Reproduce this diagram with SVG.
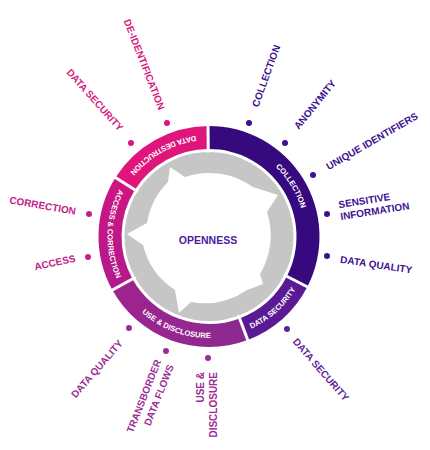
<svg xmlns="http://www.w3.org/2000/svg" width="430" height="450" viewBox="0 0 430 450">
<defs>
<style>
.lbl{font-family:"Liberation Sans",Arial,Helvetica,sans-serif;font-weight:bold;font-size:10px}
.seg{font-family:"Liberation Sans",Arial,Helvetica,sans-serif;font-weight:bold;font-size:7.6px;fill:#ffffff}
.col{fill:#3d1190}
.ds{fill:#5e2399}
.ud{fill:#9b2b96}
.ac{fill:#c4208c}
.dd{fill:#d9187e}
.sep{stroke:#ffffff;stroke-width:3}
</style>
<linearGradient id="gAC" x1="0" y1="0" x2="0" y2="1">
<stop offset="0" stop-color="#cf1582"/>
<stop offset="1" stop-color="#b01a8d"/>
</linearGradient>
<linearGradient id="gUD" x1="0" y1="0" x2="1" y2="0">
<stop offset="0" stop-color="#a0238d"/>
<stop offset="1" stop-color="#8a2a92"/>
</linearGradient>
<path id="pDD" d="M 208.11 135.00 A 101.5 101.5 0 0 0 123.11 182.41"/>
<path id="pAC" d="M 123.11 182.41 A 101.5 101.5 0 0 0 120.23 285.71"/>
<path id="pUD" d="M 120.23 285.71 A 101.5 101.5 0 0 0 244.55 331.58"/>
<path id="pDS" d="M 244.55 331.58 A 101.5 101.5 0 0 0 299.36 282.74"/>
<path id="pCO" d="M 208.16 140.20 A 96.3 96.3 0 0 1 294.73 280.36"/>
</defs>
<rect width="430" height="450" fill="#ffffff"/>

<g id="openness">
<circle cx="209" cy="236.5" r="84.5" fill="#c6c6c6"/>
<path d="M 170 167 L 185 177 A 75 75 0 0 1 253 187 L 278 195 L 267 212 A 75 75 0 0 1 260 274 L 263 284 L 247 290 A 75 75 0 0 1 191 302 L 179 313 L 175 290 A 75 75 0 0 1 143 245 L 127 234 L 147 223 A 75 75 0 0 1 168 182 Z" fill="#ffffff"/>
<text class="lbl" x="208" y="244" text-anchor="middle" style="font-size:10.5px;fill:#4b1c9c">OPENNESS</text>
</g>

<g id="seg-collection">
<path d="M 208.04 126.00 A 110.5 110.5 0 0 1 307.37 286.83 L 286.89 276.36 A 87.5 87.5 0 0 0 208.24 149.00 Z" fill="#36097f"/>
<text class="seg"><textPath href="#pCO" startOffset="50%" text-anchor="middle">COLLECTION</textPath></text>
</g>
<g id="seg-data-security">
<path d="M 307.37 286.83 A 110.5 110.5 0 0 1 247.70 340.01 L 239.64 318.46 A 87.5 87.5 0 0 0 286.89 276.36 Z" fill="#5a1a94"/>
<text class="seg"><textPath href="#pDS" startOffset="50%" text-anchor="middle">DATA SECURITY</textPath></text>
</g>
<g id="seg-use-disclosure">
<path d="M 247.70 340.01 A 110.5 110.5 0 0 1 112.36 290.07 L 132.47 278.92 A 87.5 87.5 0 0 0 239.64 318.46 Z" fill="url(#gUD)"/>
<text class="seg"><textPath href="#pUD" startOffset="50%" text-anchor="middle">USE &amp; DISCLOSURE</textPath></text>
</g>
<g id="seg-access-correction">
<path d="M 112.36 290.07 A 110.5 110.5 0 0 1 115.49 177.61 L 134.96 189.87 A 87.5 87.5 0 0 0 132.47 278.92 Z" fill="url(#gAC)"/>
<text class="seg"><textPath href="#pAC" startOffset="50%" text-anchor="middle">ACCESS &amp; CORRECTION</textPath></text>
</g>
<g id="seg-data-destruction">
<path d="M 115.49 177.61 A 110.5 110.5 0 0 1 208.04 126.00 L 208.24 149.00 A 87.5 87.5 0 0 0 134.96 189.87 Z" fill="#e0157b"/>
<text class="seg"><textPath href="#pDD" startOffset="50%" text-anchor="middle">DATA DESTRUCTION</textPath></text>
</g>
<g id="separators" class="sep">
<line x1="208.27" y1="152.5" x2="208.01" y2="123.5"/>
<line x1="137.92" y1="191.74" x2="113.38" y2="176.28"/>
<line x1="135.53" y1="277.22" x2="110.17" y2="291.28"/>
<line x1="238.42" y1="315.18" x2="248.57" y2="342.35"/>
<line x1="283.78" y1="274.76" x2="309.59" y2="287.97"/>
</g>

<g id="lbl-collection" class="col">
<circle cx="249" cy="123" r="3"/>
<text class="lbl" transform="translate(254.8,106.4) rotate(-70)" y="3.6">COLLECTION</text>
</g>
<g id="lbl-anonymity" class="col">
<circle cx="285" cy="143" r="3"/>
<text class="lbl" transform="translate(296,127.8) rotate(-51)" y="3.6">ANONYMITY</text>
</g>
<g id="lbl-unique-identifiers" class="col">
<circle cx="313" cy="175" r="3"/>
<text class="lbl" transform="translate(327,167) rotate(-30)" y="3.6">UNIQUE IDENTIFIERS</text>
</g>
<g id="lbl-sensitive-information" class="col">
<circle cx="327" cy="214" r="3"/>
<text class="lbl" transform="translate(338.5,204.6) rotate(-9)"><tspan x="0" y="3.6">SENSITIVE</tspan><tspan x="0" y="15.6">INFORMATION</tspan></text>
</g>
<g id="lbl-data-quality-right" class="col">
<circle cx="327" cy="256" r="3"/>
<text class="lbl" transform="translate(340.4,259.2) rotate(8.5)" y="3.6">DATA QUALITY</text>
</g>
<g id="lbl-data-security-right" class="ds">
<circle cx="287" cy="329" r="3"/>
<text class="lbl" transform="translate(295,339.6) rotate(49)" y="3.6">DATA SECURITY</text>
</g>
<g id="lbl-use-disclosure" class="ud">
<circle cx="208" cy="358" r="3"/>
<text class="lbl" transform="translate(200.7,372) rotate(-90)" text-anchor="end"><tspan x="0" y="3.6">USE &amp;</tspan><tspan x="0" y="15.9">DISCLOSURE</tspan></text>
</g>
<g id="lbl-transborder" class="ud">
<circle cx="166" cy="351" r="3"/>
<text class="lbl" transform="translate(158,359.9) rotate(-68.5)" text-anchor="end"><tspan x="0" y="3.6">TRANSBORDER</tspan><tspan x="0" y="17.1">DATA FLOWS</tspan></text>
</g>
<g id="lbl-data-quality-left" class="ud">
<circle cx="129" cy="328" r="3"/>
<text class="lbl" transform="translate(120.7,341.3) rotate(-49)" y="3.6" text-anchor="end">DATA QUALITY</text>
</g>
<g id="lbl-access" class="ac">
<circle cx="88" cy="257" r="3"/>
<text class="lbl" transform="translate(75.2,258) rotate(-12)" y="3.6" text-anchor="end">ACCESS</text>
</g>
<g id="lbl-correction" class="ac">
<circle cx="89" cy="214" r="3"/>
<text class="lbl" transform="translate(75.8,211.3) rotate(10)" y="3.6" text-anchor="end">CORRECTION</text>
</g>
<g id="lbl-data-security-left" class="dd">
<circle cx="131" cy="143" r="3"/>
<text class="lbl" transform="translate(121.4,129.4) rotate(48.2)" y="3.6" text-anchor="end">DATA SECURITY</text>
</g>
<g id="lbl-de-identification" class="dd">
<circle cx="167" cy="123" r="3"/>
<text class="lbl" transform="translate(162,109.4) rotate(68.7)" y="3.6" text-anchor="end">DE-IDENTIFICATION</text>
</g>
</svg>
